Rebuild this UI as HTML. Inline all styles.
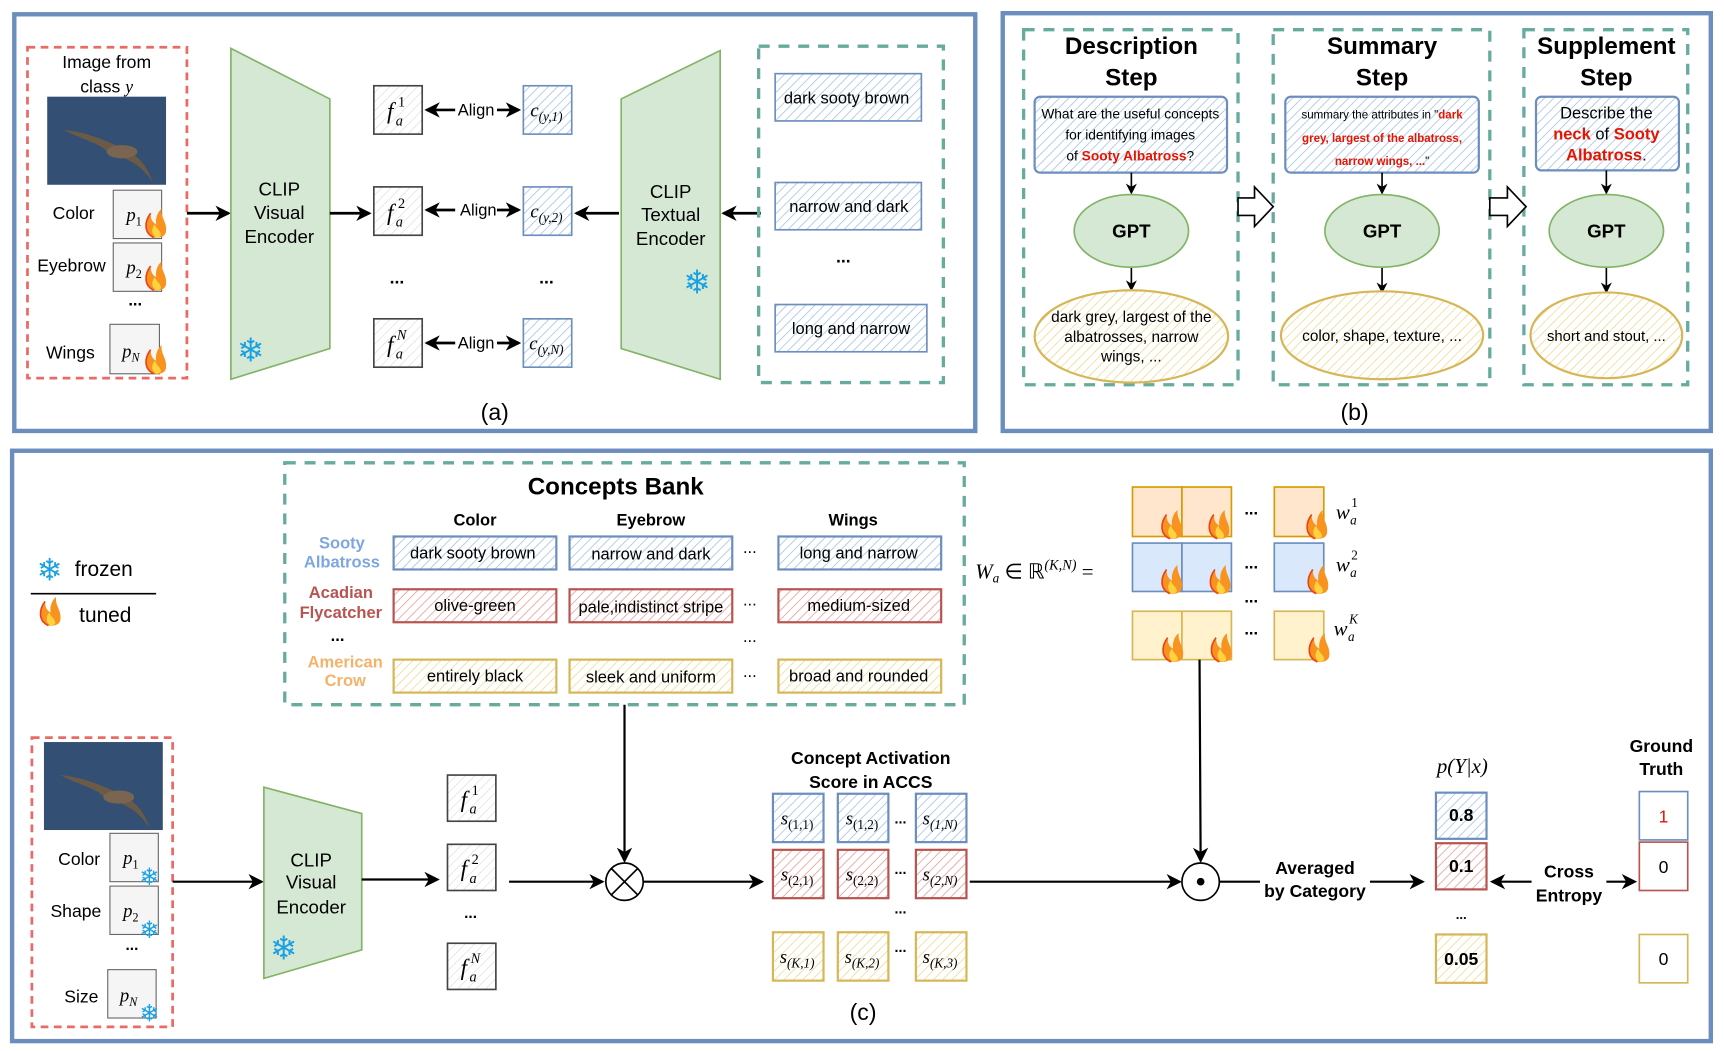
<!DOCTYPE html>
<html><head><meta charset="utf-8"><style>
html,body{margin:0;padding:0;background:#fff;}
svg{display:block;font-family:"Liberation Sans",sans-serif;}
.m{font-family:"Liberation Serif",serif;font-style:italic;}
.b{font-weight:bold;}
</style></head><body>
<svg width="1724" height="1051" viewBox="0 0 1568 956" preserveAspectRatio="none" xmlns="http://www.w3.org/2000/svg">
<defs>
<pattern id="hb" width="6" height="6" patternUnits="userSpaceOnUse" patternTransform="rotate(45)"><rect width="6" height="6" fill="#fff"/><line x1="0" y1="0" x2="0" y2="6" stroke="#a9c4ec" stroke-width="1.5"/></pattern>
<pattern id="hr" width="6" height="6" patternUnits="userSpaceOnUse" patternTransform="rotate(45)"><rect width="6" height="6" fill="#fff"/><line x1="0" y1="0" x2="0" y2="6" stroke="#eaa09c" stroke-width="1.5"/></pattern>
<pattern id="hy" width="6" height="6" patternUnits="userSpaceOnUse" patternTransform="rotate(45)"><rect width="6" height="6" fill="#fff"/><line x1="0" y1="0" x2="0" y2="6" stroke="#f0dc9a" stroke-width="1.5"/></pattern>
<pattern id="hg" width="6" height="6" patternUnits="userSpaceOnUse" patternTransform="rotate(45)"><rect width="6" height="6" fill="#fff"/><line x1="0" y1="0" x2="0" y2="6" stroke="#ddd" stroke-width="1.2"/></pattern>
<marker id="ar" markerWidth="10" markerHeight="10" refX="8" refY="5" orient="auto-start-reverse" markerUnits="userSpaceOnUse"><path d="M0,0 L10,5 L0,10 L3,5z" fill="#000"/></marker>
<marker id="as" markerWidth="14" markerHeight="14" refX="12" refY="7" orient="auto-start-reverse" markerUnits="userSpaceOnUse"><path d="M0,0 L14,7 L0,14 L4,7z" fill="#000"/></marker>
<g id="fl"><path d="M0,0 C-9,-4 -9,-14 -3,-22 C-3,-15 0,-13 2,-12 C1,-18 4,-24 7,-26 C6,-18 12,-14 11,-6 C11,-2 7,1 0,0z" fill="#f7931e"/><path d="M2,0 C-3,-3 -2,-9 1,-12 C2,-8 5,-7 6,-4 C7,-1 5,0 2,0z" fill="#ffd23f"/><path d="M0,0 C-9,-4 -9,-14 -3,-22" fill="none" stroke="#e8431a" stroke-width="1.5"/></g>
<g id="bird"><rect width="108" height="80" fill="#2b4466"/><rect width="108" height="80" fill="#3c5a80" opacity=".5"/><path d="M15,30 C35,32 55,40 70,48 C80,52 90,60 96,78 C88,66 80,60 70,56 C60,56 55,50 50,46 C40,40 25,36 15,30z" fill="#6b5a46"/><ellipse cx="68" cy="50" rx="14" ry="6" fill="#7a6650"/></g>
</defs>
<rect width="1568" height="956" fill="#fff"/>

<rect x="13" y="13" width="874" height="379" fill="none" stroke="#6c8ebf" stroke-width="4"/>
<rect x="912" y="12" width="644" height="380" fill="none" stroke="#6c8ebf" stroke-width="4"/>
<rect x="11" y="410" width="1545" height="537" fill="none" stroke="#6c8ebf" stroke-width="4"/>

<!-- ===== (a) ===== -->
<rect x="25" y="43" width="145" height="301" fill="none" stroke="#ea6b66" stroke-width="2.5" stroke-dasharray="7,5"/>
<text x="97" y="62" font-size="16" text-anchor="middle">Image from</text>
<text x="97" y="84" font-size="16" text-anchor="middle">class <tspan class="m">y</tspan></text>
<use href="#bird" x="43" y="88"/>
<text x="67" y="199" font-size="16" text-anchor="middle">Color</text>
<rect x="103" y="173" width="44" height="44" fill="#f5f5f5" stroke="#666"/>
<text x="122" y="201" font-size="17" class="m" text-anchor="middle">p<tspan font-size="11" dy="4" font-style="normal">1</tspan></text>
<use href="#fl" x="140" y="216"/>
<text x="65" y="247" font-size="16" text-anchor="middle">Eyebrow</text>
<rect x="103" y="221" width="44" height="44" fill="#f5f5f5" stroke="#666"/>
<text x="122" y="249" font-size="17" class="m" text-anchor="middle">p<tspan font-size="11" dy="4" font-style="normal">2</tspan></text>
<use href="#fl" x="140" y="264"/>
<text x="123" y="278" font-size="15" text-anchor="middle" class="b">...</text>
<text x="64" y="326" font-size="16" text-anchor="middle">Wings</text>
<rect x="100" y="295" width="45" height="45" fill="#f5f5f5" stroke="#666"/>
<text x="119" y="325" font-size="17" class="m" text-anchor="middle">p<tspan font-size="11" dy="4">N</tspan></text>
<use href="#fl" x="140" y="340"/>
<line x1="170" y1="194" x2="208" y2="194" stroke="#000" stroke-width="2.5" marker-end="url(#as)"/>
<polygon points="210,44 300,90 300,317 210,345" fill="#d5e8d4" stroke="#82b366" stroke-width="1.5"/>
<text x="254" y="178" font-size="17" text-anchor="middle">CLIP</text>
<text x="254" y="199" font-size="17" text-anchor="middle">Visual</text>
<text x="254" y="221" font-size="17" text-anchor="middle">Encoder</text>
<text x="228" y="329" font-size="30" fill="#1ba1e2" text-anchor="middle">❄</text>
<line x1="300" y1="194" x2="336" y2="194" stroke="#000" stroke-width="2.5" marker-end="url(#as)"/>
<g stroke="#444" stroke-width="1.5">
<rect x="340" y="78" width="44" height="44" fill="url(#hg)"/>
<rect x="340" y="170" width="44" height="44" fill="url(#hg)"/>
<rect x="340" y="290" width="44" height="44" fill="url(#hg)"/>
</g>
<g stroke="#6c8ebf" stroke-width="1.5">
<rect x="476" y="78" width="44" height="44" fill="url(#hb)"/>
<rect x="476" y="170" width="44" height="44" fill="url(#hb)"/>
<rect x="476" y="290" width="44" height="44" fill="url(#hb)"/>
</g>
<g class="m">
<text x="352" y="108" font-size="21">f</text><text x="360" y="114" font-size="13">a</text><text x="362" y="97" font-size="13" font-style="normal">1</text>
<text x="352" y="200" font-size="21">f</text><text x="360" y="206" font-size="13">a</text><text x="362" y="189" font-size="13" font-style="normal">2</text>
<text x="352" y="320" font-size="21">f</text><text x="360" y="326" font-size="13">a</text><text x="361" y="309" font-size="13">N</text>
</g>
<g class="m" font-size="17" text-anchor="middle">
<text x="497" y="106">c<tspan font-size="12" dy="4">(y,1)</tspan></text>
<text x="497" y="198">c<tspan font-size="12" dy="4">(y,2)</tspan></text>
<text x="497" y="318">c<tspan font-size="12" dy="4">(y,N)</tspan></text>
</g>
<g stroke="#000" stroke-width="2.5">
<line x1="388" y1="100" x2="472" y2="100" marker-start="url(#as)" marker-end="url(#as)"/>
<line x1="388" y1="191" x2="472" y2="191" marker-start="url(#as)" marker-end="url(#as)"/>
<line x1="388" y1="312" x2="472" y2="312" marker-start="url(#as)" marker-end="url(#as)"/>
</g>
<g font-size="15" text-anchor="middle"><rect x="414" y="90" width="38" height="18" fill="#fff"/><text x="433" y="105">Align</text>
<rect x="414" y="181" width="38" height="18" fill="#fff"/><text x="435" y="196">Align</text>
<rect x="414" y="302" width="38" height="18" fill="#fff"/><text x="433" y="317">Align</text></g>
<text x="361" y="258" font-size="16" class="b" text-anchor="middle">...</text>
<text x="497" y="258" font-size="16" class="b" text-anchor="middle">...</text>
<line x1="563" y1="194" x2="524" y2="194" stroke="#000" stroke-width="2.5" marker-end="url(#as)"/>
<polygon points="565,90 655,46 655,345 565,317" fill="#d5e8d4" stroke="#82b366" stroke-width="1.5"/>
<text x="610" y="180" font-size="17" text-anchor="middle">CLIP</text>
<text x="610" y="201" font-size="17" text-anchor="middle">Textual</text>
<text x="610" y="223" font-size="17" text-anchor="middle">Encoder</text>
<text x="634" y="267" font-size="30" fill="#1ba1e2" text-anchor="middle">❄</text>
<line x1="692" y1="194" x2="658" y2="194" stroke="#000" stroke-width="2.5" marker-end="url(#as)"/>
<rect x="690" y="42" width="168" height="306" fill="none" stroke="#67ab9f" stroke-width="3" stroke-dasharray="10,8"/>
<g stroke="#6c8ebf" stroke-width="1.5" fill="url(#hb)">
<rect x="705" y="67" width="133" height="43"/><rect x="705" y="166" width="133" height="43"/><rect x="705" y="277" width="138" height="43"/></g>
<g font-size="15" text-anchor="middle"><text x="770" y="94">dark sooty brown</text><text x="772" y="193">narrow and dark</text><text x="774" y="304">long and narrow</text></g>
<text x="767" y="239" font-size="16" class="b" text-anchor="middle">...</text>
<text x="450" y="382" font-size="21" text-anchor="middle">(a)</text>

<!-- ===== (b) ===== -->
<g fill="none" stroke="#67ab9f" stroke-width="3" stroke-dasharray="10,8">
<rect x="931" y="27" width="195" height="323"/><rect x="1158" y="27" width="197" height="323"/><rect x="1386" y="27" width="149" height="323"/></g>
<g font-size="22" class="b" text-anchor="middle">
<text x="1029" y="49">Description</text><text x="1029" y="78">Step</text>
<text x="1257" y="49">Summary</text><text x="1257" y="78">Step</text>
<text x="1461" y="49">Supplement</text><text x="1461" y="78">Step</text></g>
<g stroke="#6c8ebf" stroke-width="2" fill="url(#hb)">
<rect x="941" y="88" width="175" height="69" rx="5"/><rect x="1169" y="88" width="176" height="69" rx="5"/><rect x="1397" y="88" width="130" height="67" rx="5"/></g>
<g font-size="12.5" text-anchor="middle">
<text x="1028" y="108">What are the useful concepts</text>
<text x="1028" y="127">for identifying images</text>
<text x="1028" y="146">of  <tspan fill="#e51400" class="b">Sooty Albatross</tspan>?</text></g>
<g font-size="10.5" text-anchor="middle">
<text x="1257" y="108">summary the attributes in "<tspan fill="#e51400" class="b">dark</tspan></text>
<text x="1257" y="129" fill="#e51400" class="b">grey, largest of the albatross,</text>
<text x="1257" y="150"><tspan fill="#e51400" class="b">narrow wings, ...</tspan>"</text></g>
<g font-size="15" text-anchor="middle">
<text x="1461" y="108">Describe the</text>
<text x="1461" y="127"><tspan fill="#e51400" class="b">neck</tspan> of <tspan fill="#e51400" class="b">Sooty</tspan></text>
<text x="1461" y="146"><tspan fill="#e51400" class="b">Albatross</tspan>.</text></g>
<g stroke="#000" stroke-width="1.5">
<line x1="1029" y1="157" x2="1029" y2="175" marker-end="url(#ar)"/><line x1="1257" y1="157" x2="1257" y2="175" marker-end="url(#ar)"/><line x1="1461" y1="155" x2="1461" y2="175" marker-end="url(#ar)"/>
<line x1="1029" y1="243" x2="1029" y2="263" marker-end="url(#ar)"/><line x1="1257" y1="243" x2="1257" y2="265" marker-end="url(#ar)"/><line x1="1461" y1="243" x2="1461" y2="265" marker-end="url(#ar)"/></g>
<g fill="#d5e8d4" stroke="#82b366" stroke-width="1.5">
<ellipse cx="1029" cy="210" rx="52" ry="33"/><ellipse cx="1257" cy="210" rx="52" ry="33"/><ellipse cx="1461" cy="210" rx="52" ry="33"/></g>
<g font-size="17" class="b" text-anchor="middle"><text x="1029" y="216">GPT</text><text x="1257" y="216">GPT</text><text x="1461" y="216">GPT</text></g>
<g fill="url(#hy)" stroke="#d6b656" stroke-width="2">
<ellipse cx="1029" cy="306" rx="88" ry="42"/><ellipse cx="1257" cy="305" rx="92" ry="40"/><ellipse cx="1461" cy="305" rx="69" ry="39"/></g>
<g font-size="14" text-anchor="middle">
<text x="1029" y="293">dark grey, largest of the</text><text x="1029" y="311">albatrosses, narrow</text><text x="1029" y="329">wings, ...</text>
<text x="1257" y="310">color, shape, texture, ...</text>
<text x="1461" y="310" font-size="13.5">short and stout, ...</text></g>
<g fill="#fff" stroke="#000" stroke-width="1.5">
<path d="M1126,180 L1141,180 L1141,170 L1158,188 L1141,206 L1141,196 L1126,196z"/>
<path d="M1355,180 L1371,180 L1371,170 L1388,188 L1371,206 L1371,196 L1355,196z"/></g>
<text x="1232" y="382" font-size="21" text-anchor="middle">(b)</text>

<!-- ===== (c) ===== -->
<text x="45" y="528" font-size="28" fill="#1ba1e2" text-anchor="middle">❄</text>
<text x="68" y="524" font-size="19">frozen</text>
<line x1="28" y1="540" x2="142" y2="540" stroke="#000" stroke-width="1.5"/>
<use href="#fl" x="44" y="569"/>
<text x="72" y="566" font-size="19">tuned</text>

<rect x="259" y="421" width="618" height="220" fill="none" stroke="#67ab9f" stroke-width="3" stroke-dasharray="10,8"/>
<text x="560" y="450" font-size="22" class="b" text-anchor="middle">Concepts Bank</text>
<g font-size="15" class="b" text-anchor="middle"><text x="432" y="478">Color</text><text x="592" y="478">Eyebrow</text><text x="776" y="478">Wings</text></g>
<g font-size="15" class="b" text-anchor="middle">
<text x="311" y="499" fill="#7ea6e0">Sooty</text><text x="311" y="516" fill="#7ea6e0">Albatross</text>
<text x="310" y="544" fill="#b85450">Acadian</text><text x="310" y="562" fill="#b85450">Flycatcher</text>
<text x="307" y="583" fill="#000">...</text>
<text x="314" y="607" fill="#f5b26b">American</text><text x="314" y="624" fill="#f5b26b">Crow</text></g>
<g stroke-width="2">
<rect x="358" y="488" width="148" height="30" fill="url(#hb)" stroke="#6c8ebf"/><rect x="518" y="488" width="148" height="30" fill="url(#hb)" stroke="#6c8ebf"/><rect x="708" y="488" width="148" height="30" fill="url(#hb)" stroke="#6c8ebf"/>
<rect x="358" y="536" width="148" height="30" fill="url(#hr)" stroke="#b85450"/><rect x="518" y="536" width="148" height="30" fill="url(#hr)" stroke="#b85450"/><rect x="708" y="536" width="148" height="30" fill="url(#hr)" stroke="#b85450"/>
<rect x="358" y="600" width="148" height="30" fill="url(#hy)" stroke="#d6b656"/><rect x="518" y="600" width="148" height="30" fill="url(#hy)" stroke="#d6b656"/><rect x="708" y="600" width="148" height="30" fill="url(#hy)" stroke="#d6b656"/></g>
<g font-size="15" text-anchor="middle">
<text x="430" y="508">dark sooty brown</text><text x="592" y="509">narrow and dark</text><text x="781" y="508">long and narrow</text>
<text x="432" y="556">olive-green</text><text x="592" y="557">pale,indistinct stripe</text><text x="781" y="556">medium-sized</text>
<text x="432" y="620">entirely black</text><text x="592" y="621">sleek and uniform</text><text x="781" y="620">broad and rounded</text>
<text x="682" y="503">...</text><text x="682" y="551">...</text><text x="682" y="584">...</text><text x="682" y="616">...</text></g>
<line x1="568" y1="641" x2="568" y2="783" stroke="#000" stroke-width="2" marker-end="url(#as)"/>

<rect x="29" y="671" width="128" height="263" fill="none" stroke="#ea6b66" stroke-width="2.5" stroke-dasharray="7,5"/>
<use href="#bird" x="40" y="675"/>
<g font-size="16" text-anchor="middle"><text x="72" y="787">Color</text><text x="69" y="834">Shape</text><text x="74" y="912">Size</text></g>
<g fill="#f5f5f5" stroke="#666"><rect x="100" y="758" width="44" height="44"/><rect x="100" y="806" width="44" height="44"/><rect x="98" y="882" width="44" height="44"/></g>
<g class="m" font-size="17" text-anchor="middle">
<text x="119" y="786">p<tspan font-size="11" dy="4" font-style="normal">1</tspan></text>
<text x="119" y="834">p<tspan font-size="11" dy="4" font-style="normal">2</tspan></text>
<text x="117" y="911">p<tspan font-size="11" dy="4">N</tspan></text></g>
<g font-size="22" fill="#1ba1e2" text-anchor="middle"><text x="136" y="805">❄</text><text x="136" y="853">❄</text><text x="136" y="929">❄</text></g>
<text x="120" y="864" font-size="14" class="b" text-anchor="middle">...</text>
<line x1="157" y1="802" x2="238" y2="802" stroke="#000" stroke-width="2" marker-end="url(#as)"/>
<polygon points="240,716 329,740 329,864 240,890" fill="#d5e8d4" stroke="#82b366" stroke-width="1.5"/>
<text x="283" y="788" font-size="17" text-anchor="middle">CLIP</text>
<text x="283" y="808" font-size="17" text-anchor="middle">Visual</text>
<text x="283" y="831" font-size="17" text-anchor="middle">Encoder</text>
<text x="258" y="873" font-size="30" fill="#1ba1e2" text-anchor="middle">❄</text>
<line x1="329" y1="800" x2="398" y2="800" stroke="#000" stroke-width="2" marker-end="url(#as)"/>
<g stroke="#444" stroke-width="1.5" fill="url(#hg)"><rect x="407" y="705" width="44" height="42"/><rect x="407" y="768" width="44" height="42"/><rect x="407" y="858" width="44" height="42"/></g>
<g class="m">
<text x="419" y="734" font-size="21">f</text><text x="427" y="740" font-size="13">a</text><text x="429" y="723" font-size="13" font-style="normal">1</text>
<text x="419" y="797" font-size="21">f</text><text x="427" y="803" font-size="13">a</text><text x="429" y="786" font-size="13" font-style="normal">2</text>
<text x="419" y="887" font-size="21">f</text><text x="427" y="893" font-size="13">a</text><text x="428" y="876" font-size="13">N</text>
</g>
<text x="428" y="835" font-size="14" class="b" text-anchor="middle">...</text>
<line x1="463" y1="802" x2="548" y2="802" stroke="#000" stroke-width="2" marker-end="url(#as)"/>
<circle cx="568" cy="802" r="17" fill="#fff" stroke="#000" stroke-width="1.5"/>
<line x1="556" y1="790" x2="580" y2="814" stroke="#000" stroke-width="1.5"/><line x1="580" y1="790" x2="556" y2="814" stroke="#000" stroke-width="1.5"/>
<line x1="585" y1="802" x2="693" y2="802" stroke="#000" stroke-width="2" marker-end="url(#as)"/>
<text x="792" y="695" font-size="16" class="b" text-anchor="middle">Concept Activation</text>
<text x="792" y="717" font-size="16" class="b" text-anchor="middle">Score in ACCS</text>
<g stroke-width="2">
<rect x="703" y="722" width="46" height="44" fill="url(#hb)" stroke="#6c8ebf"/><rect x="762" y="722" width="46" height="44" fill="url(#hb)" stroke="#6c8ebf"/><rect x="833" y="722" width="46" height="44" fill="url(#hb)" stroke="#6c8ebf"/>
<rect x="703" y="773" width="46" height="44" fill="url(#hr)" stroke="#b85450"/><rect x="762" y="773" width="46" height="44" fill="url(#hr)" stroke="#b85450"/><rect x="833" y="773" width="46" height="44" fill="url(#hr)" stroke="#b85450"/>
<rect x="703" y="848" width="46" height="44" fill="url(#hy)" stroke="#d6b656"/><rect x="762" y="848" width="46" height="44" fill="url(#hy)" stroke="#d6b656"/><rect x="833" y="848" width="46" height="44" fill="url(#hy)" stroke="#d6b656"/></g>
<g class="m" font-size="17" text-anchor="middle">
<text x="725" y="750">s<tspan font-size="12" font-style="normal" dy="4">(1,1)</tspan></text><text x="784" y="750">s<tspan font-size="12" font-style="normal" dy="4">(1,2)</tspan></text><text x="855" y="750">s<tspan font-size="12" dy="4">(1,N)</tspan></text>
<text x="725" y="801">s<tspan font-size="12" font-style="normal" dy="4">(2,1)</tspan></text><text x="784" y="801">s<tspan font-size="12" font-style="normal" dy="4">(2,2)</tspan></text><text x="855" y="801">s<tspan font-size="12" dy="4">(2,N)</tspan></text>
<text x="725" y="876">s<tspan font-size="12" dy="4">(K,1)</tspan></text><text x="784" y="876">s<tspan font-size="12" dy="4">(K,2)</tspan></text><text x="855" y="876">s<tspan font-size="12" dy="4">(K,3)</tspan></text></g>
<g font-size="13" class="b" text-anchor="middle"><text x="819" y="749">...</text><text x="819" y="795">...</text><text x="819" y="831">...</text><text x="819" y="866">...</text></g>
<line x1="882" y1="802" x2="1073" y2="802" stroke="#000" stroke-width="2" marker-end="url(#as)"/>

<text x="887" y="526" font-size="19" class="m">W<tspan font-size="12" dy="4">a</tspan><tspan dy="-4" font-style="normal"> ∈ ℝ</tspan><tspan font-size="13" dy="-8">(K,N)</tspan><tspan dy="8" font-style="normal"> =</tspan></text>
<g stroke-width="1.5">
<rect x="1030" y="443" width="45" height="45" fill="#ffe6cc" stroke="#d79b00"/><rect x="1075" y="443" width="45" height="45" fill="#ffe6cc" stroke="#d79b00"/><rect x="1159" y="443" width="45" height="45" fill="#ffe6cc" stroke="#d79b00"/>
<rect x="1030" y="494" width="45" height="44" fill="#dae8fc" stroke="#6c8ebf"/><rect x="1075" y="494" width="45" height="44" fill="#dae8fc" stroke="#6c8ebf"/><rect x="1159" y="494" width="45" height="44" fill="#dae8fc" stroke="#6c8ebf"/>
<rect x="1030" y="556" width="45" height="44" fill="#fff2cc" stroke="#d6b656"/><rect x="1075" y="556" width="45" height="44" fill="#fff2cc" stroke="#d6b656"/><rect x="1159" y="556" width="45" height="44" fill="#fff2cc" stroke="#d6b656"/></g>
<use href="#fl" x="1064" y="490"/><use href="#fl" x="1107" y="490"/><use href="#fl" x="1196" y="490"/>
<use href="#fl" x="1064" y="540"/><use href="#fl" x="1108" y="540"/><use href="#fl" x="1197" y="540"/>
<use href="#fl" x="1065" y="602"/><use href="#fl" x="1109" y="602"/><use href="#fl" x="1198" y="602"/>
<g font-size="15" class="b" text-anchor="middle"><text x="1138" y="468">...</text><text x="1138" y="517">...</text><text x="1138" y="548">...</text><text x="1138" y="577">...</text></g>
<g class="m">
<text x="1215" y="472" font-size="19">w</text><text x="1228" y="477" font-size="12">a</text><text x="1229" y="461" font-size="12" font-style="normal">1</text>
<text x="1215" y="520" font-size="19">w</text><text x="1228" y="525" font-size="12">a</text><text x="1229" y="509" font-size="12" font-style="normal">2</text>
<text x="1213" y="578" font-size="19">w</text><text x="1226" y="583" font-size="12">a</text><text x="1227" y="567" font-size="12">K</text>
</g>
<line x1="1091" y1="600" x2="1092" y2="783" stroke="#000" stroke-width="2" marker-end="url(#as)"/>
<circle cx="1092" cy="802" r="17" fill="#fff" stroke="#000" stroke-width="1.5"/><circle cx="1092" cy="802" r="3.5" fill="#000"/>
<line x1="1109" y1="802" x2="1294" y2="802" stroke="#000" stroke-width="2" marker-end="url(#as)"/>
<rect x="1146" y="777" width="100" height="44" fill="#fff"/>
<text x="1196" y="795" font-size="16" class="b" text-anchor="middle">Averaged</text>
<text x="1196" y="816" font-size="16" class="b" text-anchor="middle">by Category</text>
<text x="1330" y="703" font-size="19" class="m" text-anchor="middle">p(Y|x)</text>
<g stroke-width="2">
<rect x="1306" y="721" width="46" height="42" fill="url(#hb)" stroke="#6c8ebf"/>
<rect x="1306" y="767" width="46" height="42" fill="url(#hr)" stroke="#b85450"/>
<rect x="1306" y="850" width="46" height="44" fill="url(#hy)" stroke="#d6b656"/></g>
<g font-size="16" class="b" text-anchor="middle"><text x="1329" y="747">0.8</text><text x="1329" y="793">0.1</text><text x="1329" y="878">0.05</text><text x="1329" y="836" font-size="12">...</text></g>
<line x1="1357" y1="802" x2="1487" y2="802" stroke="#000" stroke-width="2" marker-start="url(#as)" marker-end="url(#as)"/>
<rect x="1393" y="781" width="68" height="44" fill="#fff"/>
<text x="1427" y="798" font-size="16" class="b" text-anchor="middle">Cross</text>
<text x="1427" y="820" font-size="16" class="b" text-anchor="middle">Entropy</text>
<text x="1511" y="684" font-size="16" class="b" text-anchor="middle">Ground</text>
<text x="1511" y="705" font-size="16" class="b" text-anchor="middle">Truth</text>
<g fill="#fff" stroke-width="1.5"><rect x="1491" y="720" width="44" height="44" stroke="#6c8ebf"/><rect x="1491" y="766" width="44" height="44" stroke="#b85450"/><rect x="1491" y="850" width="44" height="44" stroke="#d6b656"/></g>
<g font-size="16" text-anchor="middle"><text x="1513" y="748" fill="#e51400">1</text><text x="1513" y="794">0</text><text x="1513" y="878">0</text></g>
<text x="785" y="928" font-size="21" text-anchor="middle">(c)</text>
</svg>
</body></html>
